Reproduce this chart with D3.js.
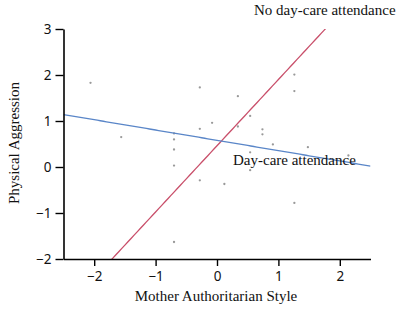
<!DOCTYPE html>
<html>
<head>
<meta charset="utf-8">
<script src="https://cdn.jsdelivr.net/npm/d3@7"></script>
<style>
html,body{margin:0;padding:0;background:#fff;}
svg{display:block;}
</style>
</head>
<body>
<svg id="chart" width="400" height="312"></svg>
<script>
// ---- data ----
const pointX = [-2.06,-1.56,-0.70,-0.70,-0.70,-0.70,-0.70,-0.28,-0.28,-0.28,-0.08,0.12,0.34,0.34,0.54,0.54,0.54,0.74,0.74,0.91,1.26,1.26,1.26,1.48,2.14];
const pointY = [1.83,0.65,0.73,0.60,0.38,0.03,-1.63,1.73,0.83,-0.29,0.96,-0.37,1.54,0.88,1.11,0.32,-0.07,0.82,0.71,0.49,2.01,1.65,-0.78,0.43,0.25];
const lineNames = ["No day-care attendance","Day-care attendance"];
const lineIntercepts = [0.462, 0.58];
const lineSlopes = [1.44, -0.224];
const lineColors = ["#c9506b","#5a86c8"];
const xTicks = [-2,-1,0,1,2];
const yTicks = [-2,-1,0,1,2,3];
const xDomain = [-2.5,2.5];
const yDomain = [-2,3];
const xTitle = "Mother Authoritarian Style";
const yTitle = "Physical Aggression";

// ---- layout ----
const svg = d3.select("#chart");
const mLeft = 63.5, mRight = 370.5, mTop = 29, mBottom = 259;
const x = d3.scaleLinear().domain(xDomain).range([mLeft, mRight]);
const y = d3.scaleLinear().domain(yDomain).range([mBottom, mTop]);

svg.append("defs").append("clipPath").attr("id","plotclip")
  .append("rect").attr("x",mLeft).attr("y",mTop).attr("width",mRight-mLeft).attr("height",mBottom-mTop);

// points
svg.append("g").selectAll("circle").data(pointX.map((v,i)=>[v,pointY[i]])).join("circle")
  .attr("cx",d=>x(d[0])).attr("cy",d=>y(d[1])).attr("r",1.15).attr("fill","#999");

// lines
const lg = svg.append("g").attr("clip-path","url(#plotclip)");
lineNames.forEach((n,i)=>{
  const xs = d3.range(0,101).map(k=>xDomain[0]+(xDomain[1]-xDomain[0])*k/100);
  const pts = xs.map(v=>[v, lineIntercepts[i]+lineSlopes[i]*v]);
  lg.append("path").datum(pts)
    .attr("d", d3.line().x(d=>x(d[0])).y(d=>y(d[1])))
    .attr("fill","none").attr("stroke",lineColors[i]).attr("stroke-width",1.3);
});

// axes
const tickFmt = d3.format("d");
const xAxis = svg.append("g").attr("transform",`translate(0,${mBottom})`)
  .call(d3.axisBottom(x).tickValues(xTicks).tickFormat(tickFmt).tickSize(7).tickSizeOuter(0).tickPadding(5));
const yAxis = svg.append("g").attr("transform",`translate(${mLeft},0)`)
  .call(d3.axisLeft(y).tickValues(yTicks).tickFormat(tickFmt).tickSize(8).tickSizeOuter(0).tickPadding(4));
[xAxis,yAxis].forEach(a=>{
  a.select(".domain").attr("stroke","#000").attr("stroke-width",1.6);
  a.selectAll(".tick line").attr("stroke","#000").attr("stroke-width",1.4);
  a.selectAll(".tick text").attr("font-family","'Noto Sans', sans-serif").attr("font-size",13.5).attr("fill","#111");
});

// titles
const serif = "'Liberation Serif', serif";
svg.append("text").attr("x",216).attr("y",301).attr("text-anchor","middle")
  .attr("font-family",serif).attr("font-size",15).attr("fill","#111").text(xTitle);
svg.append("text").attr("transform","translate(19,143) rotate(-90)").attr("text-anchor","middle")
  .attr("font-family",serif).attr("font-size",15).attr("fill","#111").text(yTitle);

// line labels
svg.append("text").attr("x",254).attr("y",15)
  .attr("font-family",serif).attr("font-size",15).attr("fill","#111").text(lineNames[0]);
svg.append("text").attr("x",233).attr("y",165)
  .attr("font-family",serif).attr("font-size",15).attr("fill","#111").text(lineNames[1]);
</script>
</body>
</html>
